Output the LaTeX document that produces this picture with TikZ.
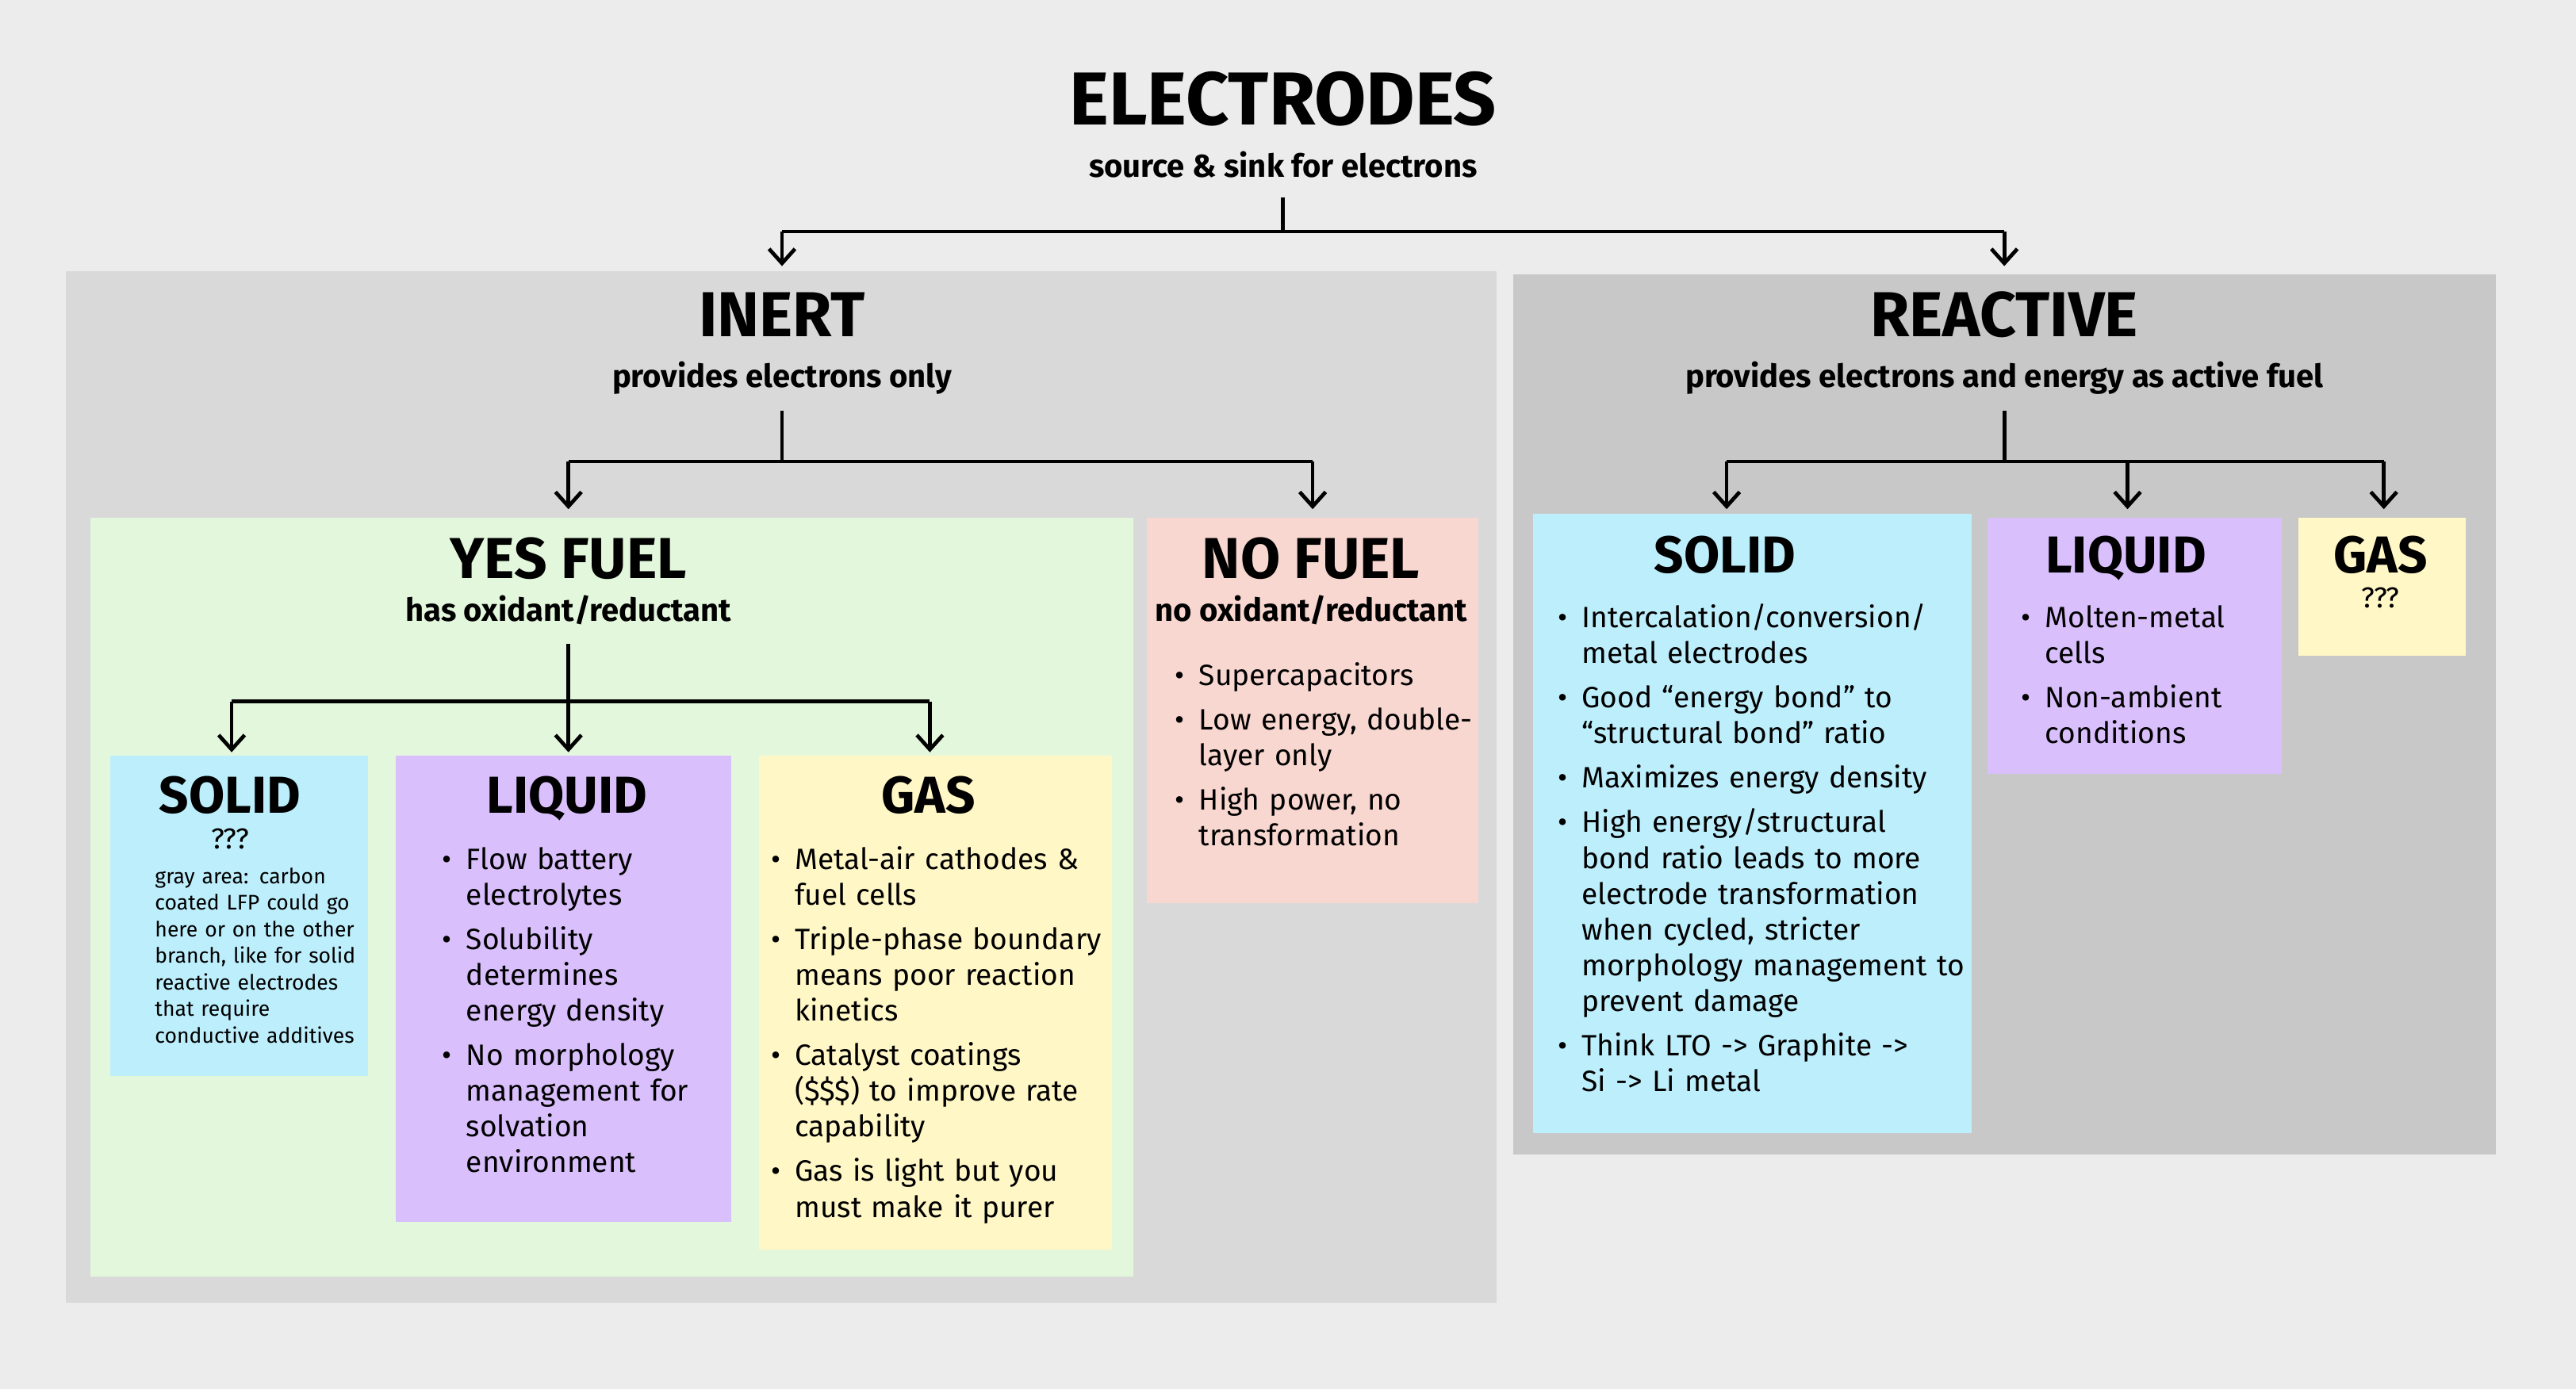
\documentclass[tikz,border=0pt]{standalone}
\usepackage{fontspec}
\setmainfont{Fira Sans}
\usepackage{enumitem}
\usetikzlibrary{arrows.meta}
\definecolor{bg}{HTML}{ECECEC}
\definecolor{inertc}{HTML}{D9D9D9}
\definecolor{reactc}{HTML}{C8C8C8}
\definecolor{yesc}{HTML}{E3F7DC}
\definecolor{noc}{HTML}{F8D7D0}
\definecolor{bluec}{HTML}{BDEEFC}
\definecolor{purc}{HTML}{D9BFFC}
\definecolor{yelc}{HTML}{FFF7C6}
\tikzset{
 ttl/.style={font=\fontsize{#1}{#1}\selectfont\bfseries, inner sep=0pt, anchor=base},
 sub/.style={font=\fontsize{11}{13}\selectfont\bfseries, inner sep=0pt, anchor=base},
 lst/.style={anchor=north west, inner sep=0pt, text width=#1, font=\fontsize{10.2}{12.4}\selectfont, align=left},
 arr/.style={-{Straight Barb[length=5pt,width=9pt]}, line width=1.3pt},
 ln/.style={line width=1.3pt}
}
\setlist[itemize]{leftmargin=0.33cm,label=\textbullet,itemsep=3pt,topsep=0pt,parsep=0pt,partopsep=0pt}
\begin{document}
\begin{tikzpicture}[x=0.02cm,y=-0.02cm]
\fill[bg] (0,0) rectangle (1568,846);
\useasboundingbox (0,0) rectangle (1568,846);
\fill[inertc] (40,165) rectangle (911,793);
\fill[reactc] (921,167) rectangle (1519,703);
\fill[yesc] (55,315) rectangle (690,777);
\fill[noc] (698,315) rectangle (900,550);
\fill[bluec] (67,460) rectangle (224,655);
\fill[purc] (241,460) rectangle (445,744);
\fill[yelc] (462,460) rectangle (677,761);
\fill[bluec] (933,313) rectangle (1200,690);
\fill[purc] (1210,315) rectangle (1389,471);
\fill[yelc] (1399,315) rectangle (1501,399);

\node[ttl=26] (elec) at (781,76) {ELECTRODES};
\node[sub] (elecs) at (781,108) {source \& sink for electrons};
\node[ttl=22] (inert) at (476,205) {INERT};
\node[sub] (inerts) at (476,236) {provides electrons only};
\node[ttl=22] (react) at (1220,205) {REACTIVE};
\node[sub] (reacts) at (1220,236) {provides electrons and energy as active fuel};
\node[ttl=20] (yes) at (346,352) {YES FUEL};
\node[sub] (yess) at (346,378) {has oxidant/reductant};
\node[ttl=20] (no) at (798,352) {NO FUEL};
\node[sub] (nos) at (798,378) {no oxidant/reductant};
\node[ttl=18] (s1) at (140,495) {SOLID};
\node[inner sep=0pt,anchor=base,font=\fontsize{10}{12}\selectfont] (s1q) at (140,517) {???};
\node[lst=2.5cm, font=\fontsize{7.3}{9.2}\selectfont] (s1t) at (94,528) {gray area: carbon\\ coated LFP could go\\ here or on the other\\ branch, like for solid\\ reactive electrodes\\ that require\\ conductive additives};
\node[ttl=18] (l1) at (345,495) {LIQUID};
\node[ttl=18] (g1) at (565,495) {GAS};
\node[ttl=18] (s2) at (1050,349) {SOLID};
\node[ttl=18] (l2) at (1294,349) {LIQUID};
\node[ttl=18] (g2) at (1449,349) {GAS};
\node[inner sep=0pt,anchor=base,font=\fontsize{10}{12}\selectfont] (g2q) at (1449,370) {???};

\node[lst=3.6cm] (l1t) at (267,507) {\begin{itemize}
\item Flow battery\\ electrolytes
\item Solubility\\ determines\\ energy density
\item No morphology\\ management for\\ solvation\\ environment
\end{itemize}};
\node[lst=4.6cm] (g1t) at (467,507) {\begin{itemize}
\item Metal-air cathodes \&\\ fuel cells
\item Triple-phase boundary\\ means poor reaction\\ kinetics
\item Catalyst coatings\\ (\$\$\$) to improve rate\\ capability
\item Gas is light but you\\ must make it purer
\end{itemize}};
\node[lst=4.2cm] (not) at (713,395) {\begin{itemize}
\item Supercapacitors
\item Low energy, double-\\layer only
\item High power, no\\ transformation
\end{itemize}};
\node[lst=5.6cm] (s2t) at (946,360) {\begin{itemize}
\item Intercalation/conversion/\\ metal electrodes
\item Good “energy bond” to\\ “structural bond" ratio
\item Maximizes energy density
\item High energy/structural\\ bond ratio leads to more\\ electrode transformation\\ when cycled, stricter\\ morphology management to\\ prevent damage
\item Think LTO -> Graphite ->\\ Si -> Li metal
\end{itemize}};
\node[lst=3.4cm] (l2t) at (1228,360) {\begin{itemize}
\item Molten-metal\\ cells
\item Non-ambient\\ conditions
\end{itemize}};

\coordinate (a0) at (781,120);
\coordinate (a1) at (781,141);
\coordinate (a2) at (476,141);
\coordinate (a3) at (1220,141);
\draw[ln] (a0) -- (a1); \draw[ln] (a2) -- (a3);
\draw[arr] (a2) -- (476,162);
\draw[arr] (a3) -- (1220,162);
\coordinate (b0) at (476,250); \coordinate (b1) at (476,281);
\coordinate (b2) at (346,281); \coordinate (b3) at (799,281);
\draw[ln] (b0) -- (b1); \draw[ln] (b2) -- (b3);
\draw[arr] (b2) -- (346,310); \draw[arr] (b3) -- (799,310);
\coordinate (c0) at (346,392); \coordinate (c1) at (346,427);
\coordinate (c2) at (141,427); \coordinate (c3) at (566,427);
\draw[ln] (c2) -- (c3);
\draw[arr] (c0) -- (346,458); \draw[arr] (c2) -- (141,458); \draw[arr] (c3) -- (566,458);
\coordinate (d0) at (1220,250); \coordinate (d1) at (1220,281);
\coordinate (d2) at (1051,281); \coordinate (d3) at (1451,281);
\draw[ln] (d0) -- (d1); \draw[ln] (d2) -- (d3);
\draw[arr] (d2) -- (1051,310); \draw[arr] (1295,281) -- (1295,310); \draw[arr] (d3) -- (1451,310);
\end{tikzpicture}
\end{document}
